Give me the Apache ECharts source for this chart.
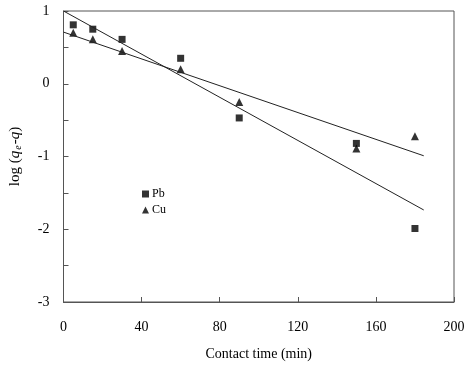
<!DOCTYPE html>
<html><head><meta charset="utf-8">
<script src="https://cdn.jsdelivr.net/npm/echarts@6/dist/echarts.min.js"></script>
<style>html,body{margin:0;padding:0;background:#fff}#c{width:474px;height:366px}</style>
</head><body><div id="c"></div>
<script>
const time = [5, 15, 30, 60, 90, 150, 180];
const pb = [0.81, 0.75, 0.61, 0.35, -0.47, -0.82, -1.99];
const cu = [0.70, 0.61, 0.45, 0.20, -0.25, -0.89, -0.72];
const fitX = [0, 184.5];
const pbFit = [1.0, -1.735];
const cuFit = [0.71, -0.99];
const xTicks = [0, 40, 80, 120, 160, 200];
const yTicks = [-3, -2, -1, 0, 1];

const font = '"Liberation Serif", "Times New Roman", serif';
const chart = echarts.init(document.getElementById('c'));
chart.setOption({
  animation: false,
  grid: {left: 57, right: 20, top: 11, bottom: 64, show: true, borderColor: '#555', borderWidth: 1},
  legend: {
    data: [{name: 'Pb', icon: 'rect'}, {name: 'Cu', icon: 'triangle'}],
    orient: 'vertical', left: 137, top: 183, itemWidth: 7, itemHeight: 7, itemGap: 4,
    textStyle: {fontFamily: font, fontSize: 12, color: '#000', padding: [0,0,0,-2]}
  },
  xAxis: {
    type: 'value', min: 0, max: 200, interval: 40,
    name: 'Contact time (min)', nameLocation: 'middle', nameGap: 45,
    nameTextStyle: {fontFamily: font, fontSize: 14, color: '#000'},
    axisLine: {onZero: false, lineStyle: {color: '#555'}},
    axisTick: {inside: true, length: 5, lineStyle: {color: '#555'}},
    axisLabel: {fontFamily: font, fontSize: 14, color: '#000', margin: 18,
      formatter: v => xTicks.includes(v) ? String(v) : ''},
    splitLine: {show: false}
  },
  yAxis: {
    type: 'value', min: -3, max: 1, interval: 0.5,
    name: '{n|log (}{i|q}{s|e}{n|-}{i|q}{n|)}', nameLocation: 'middle', nameGap: 40, nameRotate: 90,
    nameTextStyle: {rich: {
      n: {fontFamily: font, fontSize: 15, color: '#000'},
      i: {fontFamily: font, fontSize: 15, fontStyle: 'italic', color: '#000'},
      s: {fontFamily: font, fontSize: 10, fontStyle: 'italic', color: '#000', verticalAlign: 'bottom', padding: [6,1,0,1]}
    }},
    axisLine: {onZero: false, lineStyle: {color: '#555'}},
    axisTick: {inside: true, length: 5, lineStyle: {color: '#555'}},
    axisLabel: {fontFamily: font, fontSize: 14, color: '#000', margin: 14,
      formatter: v => yTicks.includes(v) ? String(v) : ''},
    splitLine: {show: false}
  },
  series: [
    {name: 'Pb', type: 'scatter', symbol: 'rect', symbolSize: 7, itemStyle: {color: '#000'},
     data: time.map((t, i) => [t, pb[i]])},
    {name: 'Cu', type: 'scatter', symbol: 'triangle', symbolSize: 8, itemStyle: {color: '#000'},
     data: time.map((t, i) => [t, cu[i]])},
    {name: 'Pb fit', type: 'line', showSymbol: false, lineStyle: {color: '#222', width: 1},
     data: fitX.map((t, i) => [t, pbFit[i]])},
    {name: 'Cu fit', type: 'line', showSymbol: false, lineStyle: {color: '#222', width: 1},
     data: fitX.map((t, i) => [t, cuFit[i]])}
  ]
});
</script></body></html>
